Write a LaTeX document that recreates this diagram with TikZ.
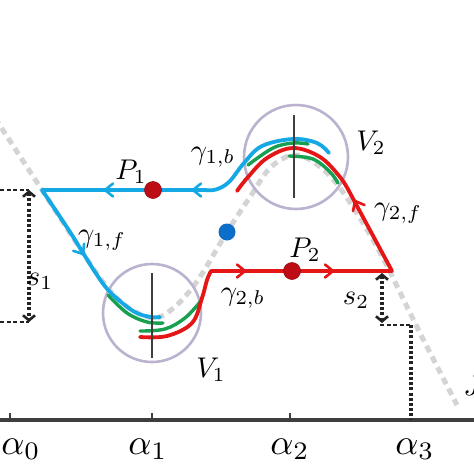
\documentclass[tikz,border=0pt]{standalone}
\usetikzlibrary{arrows.meta}
\definecolor{cblue}{RGB}{20,168,228}
\definecolor{cred}{RGB}{228,22,22}
\definecolor{cgreen}{RGB}{22,160,80}
\definecolor{cdot}{RGB}{190,12,22}
\definecolor{cdotb}{RGB}{12,110,200}
\definecolor{ccirc}{RGB}{186,178,206}
\definecolor{cgray}{RGB}{212,212,212}
\definecolor{caxis}{RGB}{62,62,62}
\definecolor{cdim}{RGB}{35,35,35}
\tikzset{
  traj/.style={line width=3.8pt, line cap=round, line join=round},
  grn/.style={traj, cgreen, line width=3.4pt},
  ghost/.style={cgray, line width=5pt, dash pattern=on 7pt off 5pt},
  vcirc/.style={circle, draw=ccirc, line width=2.6pt, inner sep=0pt},
  vbar/.style={caxis, line width=2.6pt},
  dimh/.style={cdim, line width=2.4pt, dash pattern=on 4pt off 2.5pt},
  dimv/.style={cdim, line width=3.2pt, dash pattern=on 3pt off 2.2pt},
  dimarr/.style={dimv, {Straight Barb[length=5pt,width=12pt,line width=2.6pt]}-{Straight Barb[length=5pt,width=12pt,line width=2.6pt]}},
  lab/.style={inner sep=0pt, scale=2.85},
  alab/.style={inner sep=0pt, scale=3.6},
  dotP/.style={circle, fill=cdot, draw=cdot!80!black, line width=0.6pt, minimum size=17pt, inner sep=0pt},
  dotB/.style={circle, fill=cdotb, minimum size=17pt, inner sep=0pt},
  chev/.pic={\draw[line width=2.6pt, line cap=round, line join=miter] (-8,-6.5) -- (0,0) -- (-8,6.5);}
}
\begin{document}
\begin{tikzpicture}[x=1pt,y=-1pt]
\useasboundingbox (0,0) rectangle (474,474);
\fill[white] (0,0) rectangle (474,474);

% ghost (gray dashed) curve
\draw[ghost] plot[smooth, tension=0.55] coordinates {(-5,118) (42,190) (100,278) (125,305) (145,316) (160,317) (180,302) (200,277) (227,232) (250,197) (270,168) (293,155) (315,163) (340,188) (377,247) (420,333) (457,405)};

% axis
\coordinate (ax0) at (0,420);
\coordinate (ax1) at (474,420);
\draw[caxis, line width=4pt] (ax0) -- (ax1);
\foreach \x in {10,152,290} \draw[caxis, line width=2.4pt] (\x,420) -- (\x,413);

% alpha labels
\node[alab] (a0) at (21,449) {$\alpha_0$};
\node[alab] (a1) at (148,449) {$\alpha_1$};
\node[alab] (a2) at (290,449) {$\alpha_2$};
\node[alab] (a3) at (415,449) {$\alpha_3$};

% circles V1, V2
\node[vcirc, minimum size=98pt] (C1) at (152,313) {};
\node[vcirc, minimum size=104pt] (C2) at (296,157) {};

% green arcs
\draw[grn] plot[smooth, tension=0.6] coordinates {(108,295) (127,313) (147,322) (163,323)};
\draw[grn] plot[smooth, tension=0.6] coordinates {(140,331) (165,329) (185,318) (200,302)};
\draw[grn] plot[smooth, tension=0.6] coordinates {(248,165) (273,148) (293,143) (308,144)};
\draw[grn] plot[smooth, tension=0.6] coordinates {(289,156) (313,159) (330,172) (338,183)};

% blue trajectory
\coordinate (B0) at (42,190);
\draw[traj, cblue] plot[smooth, tension=0.6] coordinates {(329,153) (317,143) (293,139) (262,146) (244,163) (229,182) (216,189.5) (205,190)} -- (B0)
  plot[smooth, tension=0.55] coordinates {(42,190) (70,232) (95,272) (110,292) (133,311) (150,317) (160,317)};

% red trajectory
\coordinate (R1) at (211,271);
\coordinate (R2) at (392,271);
\draw[traj, cred] plot[smooth, tension=0.6] coordinates {(140,337) (167,336) (192,323) (202,298) (207,280) (211,271)} -- (R2) -- (350,193)
  plot[smooth, tension=0.6] coordinates {(350,193) (340,177) (320,157) (293,148) (267,158) (248,177) (237,191)};

% chevron arrows
\pic[cblue, rotate=180] at (105,190) {chev};
\pic[cblue, rotate=180] at (193,190) {chev};
\pic[cblue, rotate=-57] at (83,254) {chev};
\pic[cred] at (245,271) {chev};
\pic[cred] at (333,271) {chev};
\pic[cred, rotate=118] at (355,201) {chev};

% vertical bars
\draw[vbar] (152,273) -- (152,358);
\draw[vbar] (294,115) -- (294,198);

% dots
\node[dotP] (P1) at (153,190) {};
\node[dotP] (P2) at (292,271) {};
\node[dotB] (Pb) at (227,232) {};

% s1 dimension
\coordinate (s1t) at (29,190);
\coordinate (s1b) at (29,322);
\draw[dimh] (0,190) -- (s1t);
\draw[dimh] (0,322) -- (s1b);
\draw[dimarr] (s1t) -- (s1b);

% s2 dimension
\coordinate (s2t) at (382,273);
\coordinate (s2b) at (382,323);
\coordinate (s2c) at (411,325);
\draw[dimarr] (s2t) -- (s2b);
\draw[dimh] (380,325) -- (s2c);
\draw[dimv] (s2c) -- (411,420);

% labels
\node[lab] (LP1) at (131,172) {$P_1$};
\node[lab] (LP2) at (305,250) {$P_2$};
\node[lab] (Lg1b) at (213,157) {$\gamma_{1,b}$};
\node[lab] (Lg1f) at (102,240) {$\gamma_{1,f}$};
\node[lab] (Lg2f) at (398,213) {$\gamma_{2,f}$};
\node[lab] (Lg2b) at (243,298) {$\gamma_{2,b}$};
\node[lab] (Ls1) at (40,281) {$s_1$};
\node[lab] (Ls2) at (356,300) {$s_2$};
\node[lab] (LV1) at (211,370) {$V_1$};
\node[lab] (LV2) at (371,143) {$V_2$};
\node[lab, anchor=west] (Ledge) at (463,386) {$J$};
\end{tikzpicture}
\end{document}
